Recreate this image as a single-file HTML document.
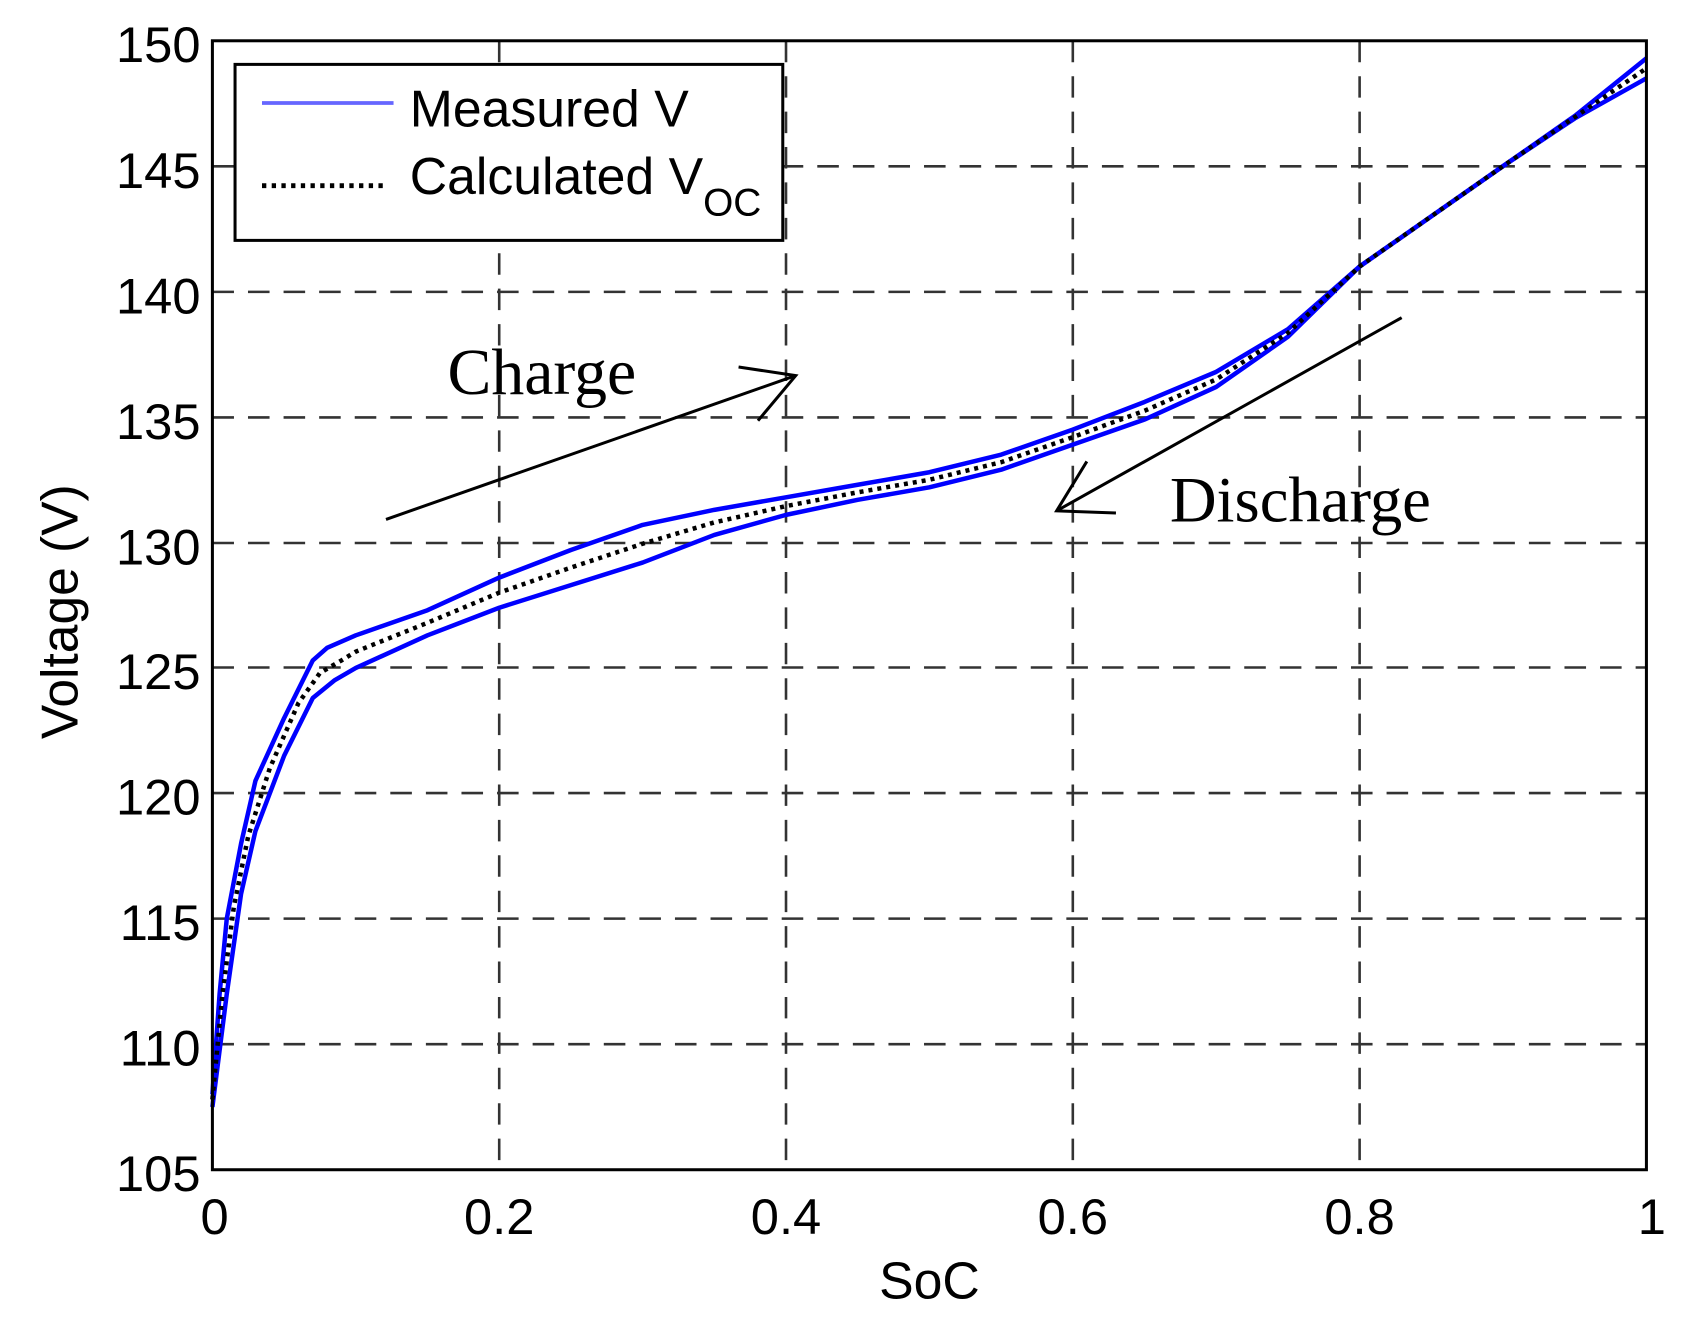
<!DOCTYPE html>
<html><head><meta charset="utf-8"><style>
html,body{margin:0;padding:0;background:#fff;}
svg{display:block;}
text{font-family:"Liberation Sans",Arial,sans-serif;fill:#000;}
.serif{font-family:"Liberation Serif","Times New Roman",serif;}
</style></head><body>
<svg width="1682" height="1335" viewBox="0 0 1560 1244" preserveAspectRatio="none" xmlns="http://www.w3.org/2000/svg">
<rect width="1560" height="1244" fill="#fff"/>
<g stroke="#333" stroke-width="2.4" stroke-dasharray="20,13" fill="none">
<line x1="463" y1="38" x2="463" y2="1090"/>
<line x1="729" y1="38" x2="729" y2="1090"/>
<line x1="995" y1="38" x2="995" y2="1090"/>
<line x1="1261" y1="38" x2="1261" y2="1090"/>
<line x1="197" y1="973" x2="1527" y2="973"/>
<line x1="197" y1="856" x2="1527" y2="856"/>
<line x1="197" y1="739" x2="1527" y2="739"/>
<line x1="197" y1="622" x2="1527" y2="622"/>
<line x1="197" y1="506" x2="1527" y2="506"/>
<line x1="197" y1="389" x2="1527" y2="389"/>
<line x1="197" y1="272" x2="1527" y2="272"/>
<line x1="197" y1="155" x2="1527" y2="155"/>
</g>
<g transform="translate(197,1090) scale(1330,-23.38) translate(0,-105)" fill="none">
<polyline vector-effect="non-scaling-stroke" stroke="#0000ff" stroke-width="4.5" stroke-linejoin="round" points="0,108 0.005,112 0.01,115 0.02,118 0.03,120.5 0.05,123 0.07,125.3 0.08,125.8 0.1,126.3 0.15,127.3 0.2,128.6 0.25,129.7 0.3,130.7 0.35,131.3 0.4,131.8 0.45,132.3 0.5,132.8 0.55,133.5 0.6,134.5 0.65,135.6 0.7,136.8 0.75,138.5 0.8,141 0.85,143 0.9,145 0.95,147 1,149.3"/>
<polyline vector-effect="non-scaling-stroke" stroke="#0000ff" stroke-width="4.5" stroke-linejoin="round" points="0,107.5 0.01,112 0.02,116 0.03,118.5 0.05,121.5 0.07,123.8 0.085,124.5 0.1,125 0.15,126.3 0.2,127.4 0.25,128.3 0.3,129.2 0.35,130.3 0.4,131.1 0.45,131.7 0.5,132.2 0.55,132.9 0.6,133.9 0.65,134.9 0.7,136.2 0.75,138.2 0.8,141 0.85,143 0.9,145 0.95,146.9 1,148.5"/>
<polyline vector-effect="non-scaling-stroke" stroke="#000" stroke-width="4.5" stroke-dasharray="4,5" points="0,107.8 0.007,112 0.015,115.5 0.025,118.3 0.04,121 0.06,123.6 0.075,124.8 0.09,125.3 0.1,125.65 0.15,126.8 0.2,128 0.25,129 0.3,129.95 0.35,130.8 0.4,131.45 0.45,132 0.5,132.5 0.55,133.2 0.6,134.2 0.65,135.25 0.7,136.5 0.75,138.35 0.8,141 0.85,143 0.9,145 0.95,146.95 1,148.9"/>
</g>
<rect x="197" y="38" width="1330" height="1052" fill="none" stroke="#000" stroke-width="2.8"/>
<rect x="218" y="60" width="508" height="164" fill="#fff" stroke="#000" stroke-width="2.8"/>
<line x1="243" y1="96" x2="365" y2="96" stroke="#6666ff" stroke-width="3.5"/>
<text x="380" y="118" font-size="48">Measured V</text>
<line x1="243" y1="173" x2="360" y2="173" stroke="#000" stroke-width="4.5" stroke-dasharray="4,5"/>
<text x="380" y="181" font-size="48">Calculated V<tspan font-size="36" dy="20">OC</tspan></text>
<g font-size="47" text-anchor="end">
<text x="186" y="58">150</text><text x="186" y="175">145</text><text x="186" y="292">140</text>
<text x="186" y="409">135</text><text x="186" y="526">130</text><text x="186" y="642">125</text>
<text x="186" y="759">120</text><text x="186" y="876">115</text><text x="186" y="993">110</text>
<text x="186" y="1110">105</text>
</g>
<g font-size="47" text-anchor="middle">
<text x="199" y="1150">0</text><text x="463" y="1150">0.2</text><text x="729" y="1150">0.4</text>
<text x="995" y="1150">0.6</text><text x="1261" y="1150">0.8</text><text x="1532" y="1150">1</text>
</g>
<text x="862" y="1210" font-size="48" text-anchor="middle">SoC</text>
<text transform="translate(72,570) rotate(-90)" font-size="48" text-anchor="middle">Voltage (V)</text>
<text class="serif" x="415" y="367" font-size="61">Charge</text>
<text class="serif" x="1085" y="486" font-size="60">Discharge</text>
<g stroke="#000" stroke-width="2.8" fill="none">
<line x1="358" y1="484" x2="738" y2="350"/>
<polyline points="685,342 738,350 703,392"/>
<line x1="1300" y1="296" x2="980" y2="476"/>
<polyline points="1008,430 980,476 1035,478"/>
</g>
</svg>
</body></html>
